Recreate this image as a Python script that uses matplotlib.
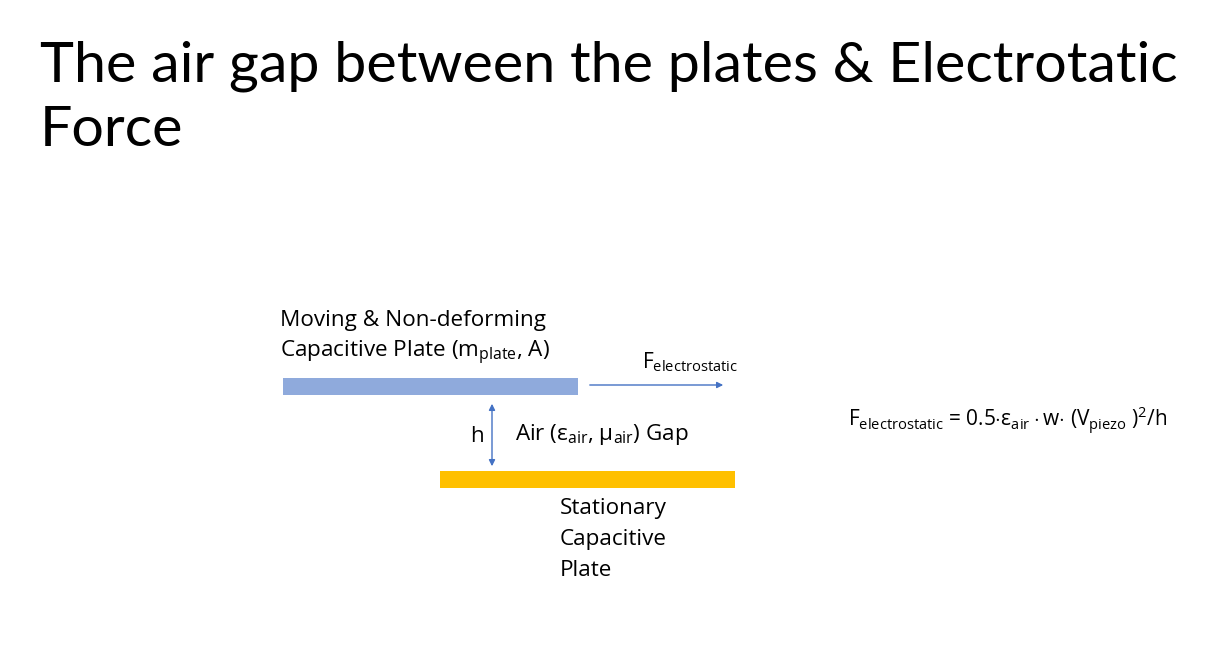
import matplotlib
matplotlib.use("Agg")
import matplotlib.pyplot as plt
from matplotlib.patches import Rectangle, FancyArrowPatch

plt.rcParams['font.family'] = ['Open Sans', 'DejaVu Sans']
plt.rcParams['mathtext.fontset'] = 'custom'
plt.rcParams['mathtext.rm'] = 'Open Sans'
plt.rcParams['mathtext.it'] = 'Open Sans'
plt.rcParams['mathtext.default'] = 'rm'

title_lines = ["The air gap between the plates & Electrotatic", "Force"]
moving_label = ["Moving & Non-deforming", r"Capacitive Plate (m$_{plate}$, A)"]
stationary_label = ["Stationary", "Capacitive", "Plate"]
gap_label = r"Air ($\varepsilon_{air}$, $\mu_{air}$) Gap"
force_label = r"F$_{electrostatic}$"
equation = r"F$_{electrostatic}$ = 0.5$\cdot\varepsilon_{air}\cdot$w$\cdot$ (V$_{piezo}$ )$^{2}$/h"

fig = plt.figure(figsize=(12.28, 6.69), dpi=100)
ax = fig.add_axes([0, 0, 1, 1])
ax.set_xlim(0, 1228); ax.set_ylim(669, 0); ax.axis('off')

for i, s in enumerate(title_lines):
    ax.text(40, 82 + 64 * i, s, fontsize=41.3, va='baseline', color='black',
            family=['Lato', 'DejaVu Sans'], fontweight='normal')

ax.add_patch(Rectangle((283, 378), 295, 17, color='#8faadc', lw=0))
ax.add_patch(Rectangle((440, 471), 295, 17, color='#ffc000', lw=0))

ax.text(280, 326, moving_label[0], fontsize=16.2, va='baseline')
ax.text(280, 357, moving_label[1], fontsize=16.2, va='baseline')
for i, s in enumerate(stationary_label):
    ax.text(560, 514 + 31 * i, s, fontsize=16.2, va='baseline')
ax.text(470, 442, "h", fontsize=16.2, va='baseline')
ax.text(515, 440, gap_label, fontsize=16.2, va='baseline')
ax.text(642, 368, force_label, fontsize=15, va='baseline')
ax.text(848, 426, equation, fontsize=15, va='baseline')

ax.add_patch(FancyArrowPatch((492, 401), (492, 469), arrowstyle='<|-|>', mutation_scale=9, color='#4472c4', lw=1))
ax.add_patch(FancyArrowPatch((587, 385), (726, 385), arrowstyle='-|>', mutation_scale=9, color='#4472c4', lw=1))

fig.savefig("out.png", dpi=100)
